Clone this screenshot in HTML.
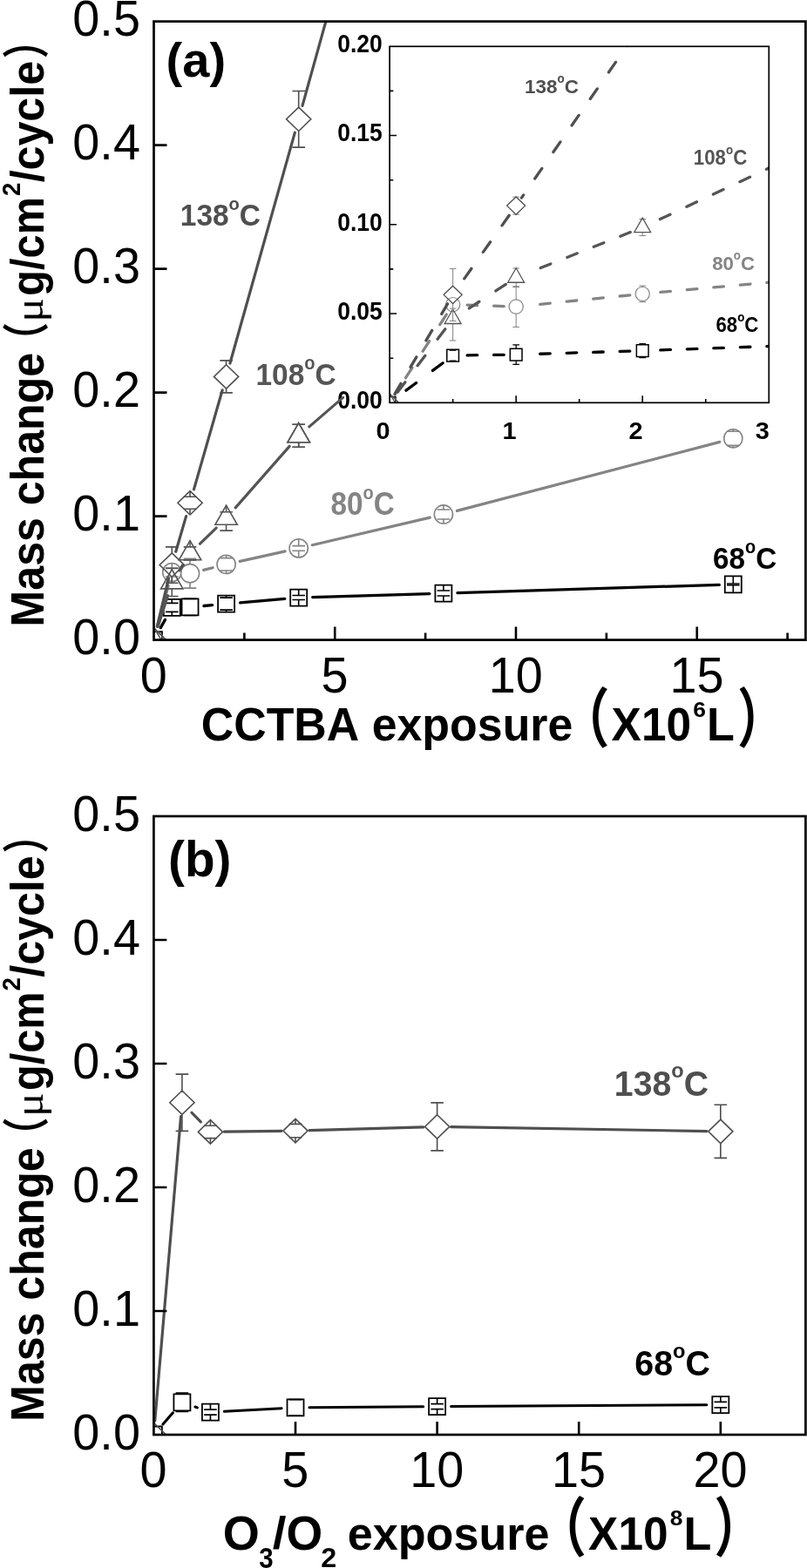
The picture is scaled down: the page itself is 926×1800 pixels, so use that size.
<!DOCTYPE html>
<html lang="en"><head><meta charset="utf-8"><title>Mass change vs exposure</title>
<style>html,body{margin:0;padding:0;background:#fff}svg{display:block}</style></head>
<body>
<svg width="926" height="1800" viewBox="0 0 926 1800">
<rect width="926" height="1800" fill="#fff"/>
<clipPath id="ca"><rect x="176.5" y="24.6" width="747.9" height="710"/></clipPath>
<g clip-path="url(#ca)">
<path d="M184.3 720.63L189.47 711.37M233.98 695.5L243.67 694.61M275.54 691.77L326.76 687.4M358.69 685.56L492.91 681.54M524.89 680.57L825.31 671.33" fill="none" stroke="#000000" stroke-width="3.3" stroke-linecap="round"/>
<path d="M189.97 692.4h14.6M197.28 692.4V687.9M189.97 702.4h14.6M197.28 702.4V706.9M210.75 687.37h14.6M218.05 687.37V687.47M210.75 706.57h14.6M218.05 706.57V706.47M252.3 686.14h14.6M259.6 686.14V683.64M252.3 700.14h14.6M259.6 700.14V702.64M335.4 683.54h14.6M342.7 683.54V676.54M335.4 688.54h14.6M342.7 688.54V695.54M501.6 678.07h14.6M508.9 678.07V671.57M501.6 684.07h14.6M508.9 684.07V690.57M834 669.94h14.6M841.3 669.94V661.34M834 671.74h14.6M841.3 671.74V680.34" fill="none" stroke="#000000" stroke-width="1.6"/>
<path d="M167 725.1h19v19h-19ZM187.78 687.9h19v19h-19ZM208.55 687.47h19v19h-19ZM250.1 683.64h19v19h-19ZM333.2 676.54h19v19h-19ZM499.4 671.57h19v19h-19ZM831.8 661.34h19v19h-19Z" fill="none" stroke="#000000" stroke-width="1.8"/>
<path d="M180.64 719.15L193.13 672.52M233.57 654.33L244.08 651.71M275.22 644.37L327.08 632.85M358.28 625.73L493.32 594.12M524.38 586.41L825.82 507.34" fill="none" stroke="#848484" stroke-width="3.2" stroke-linecap="round"/>
<path d="M189.97 652.07h14.6M197.28 652.07V646.47M189.97 662.07h14.6M197.28 662.07V667.67M210.75 641.3h14.6M218.05 641.3V647.6M210.75 675.1h14.6M218.05 675.1V668.8M252.3 640.64h14.6M259.6 640.64V637.24M252.3 655.04h14.6M259.6 655.04V658.44M335.4 626.58h14.6M342.7 626.58V618.78M335.4 632.18h14.6M342.7 632.18V639.98M501.6 584.97h14.6M508.9 584.97V579.87M501.6 595.97h14.6M508.9 595.97V601.07M834 495.28h14.6M841.3 495.28V492.68M834 511.28h14.6M841.3 511.28V513.88" fill="none" stroke="#848484" stroke-width="1.6"/>
<path d="M165.9 734.6a10.6 10.6 0 1 0 21.2 0a10.6 10.6 0 1 0 -21.2 0ZM186.68 657.07a10.6 10.6 0 1 0 21.2 0a10.6 10.6 0 1 0 -21.2 0ZM207.45 658.2a10.6 10.6 0 1 0 21.2 0a10.6 10.6 0 1 0 -21.2 0ZM249 647.84a10.6 10.6 0 1 0 21.2 0a10.6 10.6 0 1 0 -21.2 0ZM332.1 629.38a10.6 10.6 0 1 0 21.2 0a10.6 10.6 0 1 0 -21.2 0ZM498.3 590.47a10.6 10.6 0 1 0 21.2 0a10.6 10.6 0 1 0 -21.2 0ZM830.7 503.28a10.6 10.6 0 1 0 21.2 0a10.6 10.6 0 1 0 -21.2 0Z" fill="none" stroke="#848484" stroke-width="1.6"/>
<path d="M181.29 719.33L192.48 683.69M205.78 654.88L209.54 648.89M229.51 624.18L248.14 606.04M270.16 582.85L332.14 512.32" fill="none" stroke="#555555" stroke-width="3.2" stroke-linecap="round"/>
<path d="M189.97 652.43h14.6M197.28 652.43V653.73M189.97 684.43h14.6M197.28 684.43V675.83M210.75 627.84h14.6M218.05 627.84V620.64M210.75 642.84h14.6M218.05 642.84V642.74M252.3 587.77h14.6M259.6 587.77V580.17M252.3 609.17h14.6M259.6 609.17V602.27M335.4 487.3h14.6M342.7 487.3V485.6M335.4 513.3h14.6M342.7 513.3V507.7" fill="none" stroke="#555555" stroke-width="1.6"/>
<path d="M176.5 719.9L189.2 742L163.8 742ZM197.28 653.73L209.97 675.83L184.58 675.83ZM218.05 620.64L230.75 642.74L205.35 642.74ZM259.6 580.17L272.3 602.27L246.9 602.27ZM342.7 485.6L355.4 507.7L330 507.7Z" fill="none" stroke="#555555" stroke-width="1.6"/>
<path d="M180.25 719.05L193.52 664.1M201.75 633.19L213.57 592.62M222.46 561.88L255.19 447.8M263.93 417.02L338.37 152.18M346.99 121.36L508.9 -461.04" fill="none" stroke="#4f4f4f" stroke-width="3.2" stroke-linecap="round"/>
<path d="M189.97 627.85h14.6M197.28 627.85V634.85M189.97 669.25h14.6M197.28 669.25V662.25M210.75 570.26h14.6M218.05 570.26V563.56M210.75 584.26h14.6M218.05 584.26V590.96M252.3 413.92h14.6M259.6 413.92V418.72M252.3 450.92h14.6M259.6 450.92V446.12M335.4 104.48h14.6M342.7 104.48V123.08M335.4 169.08h14.6M342.7 169.08V150.48" fill="none" stroke="#4f4f4f" stroke-width="1.6"/>
<path d="M176.5 720.9L190.6 734.6L176.5 748.3L162.4 734.6ZM197.28 634.85L211.38 648.55L197.28 662.25L183.18 648.55ZM218.05 563.56L232.15 577.26L218.05 590.96L203.95 577.26ZM259.6 418.72L273.7 432.42L259.6 446.12L245.5 432.42ZM342.7 123.08L356.8 136.78L342.7 150.48L328.6 136.78Z" fill="none" stroke="#4f4f4f" stroke-width="1.6"/>
</g>
<path d="M176.5 592.6h15M176.5 450.6h15M176.5 308.6h15M176.5 166.6h15M384.25 734.6v-15M592 734.6v-15M799.75 734.6v-15M280.38 734.6v-8M488.12 734.6v-8M695.88 734.6v-8M903.62 734.6v-8" stroke="#000" stroke-width="2.6" fill="none"/>
<rect x="176.5" y="24.6" width="747.9" height="710" fill="none" stroke="#000" stroke-width="2.7"/>
<text transform="matrix(0.9973 0 0 1.0239 160.94 751.29)" font-family='"Liberation Sans", sans-serif' font-size="56" text-anchor="end">0.0</text>
<text transform="matrix(0.9973 0 0 1.0239 160.94 609.29)" font-family='"Liberation Sans", sans-serif' font-size="56" text-anchor="end">0.1</text>
<text transform="matrix(0.9973 0 0 1.0239 160.94 467.29)" font-family='"Liberation Sans", sans-serif' font-size="56" text-anchor="end">0.2</text>
<text transform="matrix(0.9973 0 0 1.0239 160.94 325.29)" font-family='"Liberation Sans", sans-serif' font-size="56" text-anchor="end">0.3</text>
<text transform="matrix(0.9973 0 0 1.0239 160.94 183.29)" font-family='"Liberation Sans", sans-serif' font-size="56" text-anchor="end">0.4</text>
<text transform="matrix(0.9973 0 0 1.0239 160.94 41.29)" font-family='"Liberation Sans", sans-serif' font-size="56" text-anchor="end">0.5</text>
<text transform="matrix(0.9963 0 0 1.0415 176.2 794.78)" font-family='"Liberation Sans", sans-serif' font-size="56" text-anchor="middle">0</text>
<text transform="matrix(0.9963 0 0 1.0415 383.95 794.78)" font-family='"Liberation Sans", sans-serif' font-size="56" text-anchor="middle">5</text>
<text transform="matrix(0.9963 0 0 1.0415 591.7 794.78)" font-family='"Liberation Sans", sans-serif' font-size="56" text-anchor="middle">10</text>
<text transform="matrix(0.9963 0 0 1.0415 799.45 794.78)" font-family='"Liberation Sans", sans-serif' font-size="56" text-anchor="middle">15</text>
<clipPath id="ci"><rect x="447.1" y="53.3" width="435.2" height="409"/></clipPath>
<g clip-path="url(#ci)">
<path d="M455.91 455.72L510.82 414.69" fill="none" stroke="#000000" stroke-width="3.3" stroke-linecap="round" stroke-dasharray="14.48 23.59" stroke-dashoffset="25.48"/>
<path d="M530.63 407.95L581.17 407.24" fill="none" stroke="#000000" stroke-width="3.3" stroke-linecap="round" stroke-dasharray="11.6 18.9" stroke-dashoffset="25"/>
<path d="M603.16 406.74L726.24 402.93" fill="none" stroke="#000000" stroke-width="3.3" stroke-linecap="round" stroke-dasharray="11.61 18.91" stroke-dashoffset="14"/>
<path d="M748.23 402.2L1027.37 392.36" fill="none" stroke="#000000" stroke-width="3.3" stroke-linecap="round" stroke-dasharray="11.61 18.91" stroke-dashoffset="20.91"/>
<path d="M515.83 402.11h7.6M519.63 402.11V401.27M515.83 414.11h7.6M519.63 414.11V414.95M588.37 395.89h7.6M592.17 395.89V400.25M588.37 418.29h7.6M592.17 418.29V413.93M733.43 394.59h7.6M737.23 394.59V395.75M733.43 410.59h7.6M737.23 410.59V409.43" fill="none" stroke="#000" stroke-width="1.3"/>
<path d="M440.26 455.46h13.68v13.68h-13.68ZM512.79 401.27h13.68v13.68h-13.68ZM585.33 400.25h13.68v13.68h-13.68ZM730.39 395.75h13.68v13.68h-13.68Z" fill="none" stroke="#000000" stroke-width="1.5"/>
<path d="M453.05 453.05L513.68 358.87" fill="none" stroke="#848484" stroke-width="3.3" stroke-linecap="round" stroke-dasharray="13.8 22.48" stroke-dashoffset="13.26"/>
<path d="M530.63 349.99L581.17 351.7" fill="none" stroke="#848484" stroke-width="3.3" stroke-linecap="round" stroke-dasharray="11.61 18.91" stroke-dashoffset="25.01"/>
<path d="M603.11 350.96L726.29 338.46" fill="none" stroke="#848484" stroke-width="3.3" stroke-linecap="round" stroke-dasharray="11.66 19" stroke-dashoffset="14.02"/>
<path d="M748.19 336.35L1027.37 310.77" fill="none" stroke="#848484" stroke-width="3.3" stroke-linecap="round" stroke-dasharray="11.65 18.98" stroke-dashoffset="20.94"/>
<path d="M515.83 354.12h7.6M519.63 354.12V357.73M588.37 328.77h7.6M592.17 328.77V343.97M588.37 375.37h7.6M592.17 375.37V360.18M733.43 328.05h7.6M737.23 328.05V329.24M733.43 346.65h7.6M737.23 346.65V345.46" fill="none" stroke="#808080" stroke-width="1"/>
<path d="M438.99 462.3a8.11 8.11 0 1 0 16.22 0a8.11 8.11 0 1 0 -16.22 0ZM511.52 349.62a8.11 8.11 0 1 0 16.22 0a8.11 8.11 0 1 0 -16.22 0ZM584.06 352.07a8.11 8.11 0 1 0 16.22 0a8.11 8.11 0 1 0 -16.22 0ZM729.12 337.35a8.11 8.11 0 1 0 16.22 0a8.11 8.11 0 1 0 -16.22 0Z" fill="none" stroke="#848484" stroke-width="1.2"/>
<path d="M453.72 453.51L513.02 374.77" fill="none" stroke="#555555" stroke-width="3.3" stroke-linecap="round" stroke-dasharray="14.52 23.66" stroke-dashoffset="34.16"/>
<path d="M528.85 359.98L582.95 324.74" fill="none" stroke="#555555" stroke-width="3.3" stroke-linecap="round" stroke-dasharray="13.84 22.55" stroke-dashoffset="25.08"/>
<path d="M602.39 314.68L727.01 265.14" fill="none" stroke="#555555" stroke-width="3.3" stroke-linecap="round" stroke-dasharray="12.48 20.34" stroke-dashoffset="13.58"/>
<path d="M747.19 256.4L1027.37 124.88" fill="none" stroke="#555555" stroke-width="3.3" stroke-linecap="round" stroke-dasharray="12.81 20.88" stroke-dashoffset="22.38"/>
<path d="M515.83 390.98h7.6M519.63 390.98V371.49M588.37 307.94h7.6M592.17 307.94V307.79M588.37 329.54h7.6M592.17 329.54V324.25M733.43 251.57h7.6M737.23 251.57V250.12M733.43 270.57h7.6M737.23 270.57V266.58" fill="none" stroke="#808080" stroke-width="1"/>
<path d="M447.1 451.35L456.56 467.81L437.64 467.81ZM519.63 355.03L529.09 371.49L510.17 371.49ZM592.17 307.79L601.63 324.25L582.71 324.25ZM737.23 250.12L746.69 266.58L727.77 266.58Z" fill="none" stroke="#555555" stroke-width="1.3"/>
<path d="M452.66 452.81L514.08 347.87" fill="none" stroke="#4f4f4f" stroke-width="3.3" stroke-linecap="round" stroke-dasharray="13.44 21.9" stroke-dashoffset="34.29"/>
<path d="M526 329.4L585.8 245.09" fill="none" stroke="#4f4f4f" stroke-width="3.3" stroke-linecap="round" stroke-dasharray="14.22 23.17" stroke-dashoffset="25.71"/>
<path d="M598.44 227.09L737.23 27.12" fill="none" stroke="#4f4f4f" stroke-width="3.3" stroke-linecap="round" stroke-dasharray="14.12 23.01" stroke-dashoffset="10.27"/>
<path d="M515.83 308.37h7.6M519.63 308.37V328.17M515.83 368.37h7.6M519.63 368.37V348.58M588.37 226.12h7.6M592.17 226.12V225.92M588.37 246.12h7.6M592.17 246.12V246.33" fill="none" stroke="#808080" stroke-width="1"/>
<path d="M447.1 452.09L457.6 462.3L447.1 472.51L436.6 462.3ZM519.63 328.17L530.14 338.37L519.63 348.58L509.13 338.37ZM592.17 225.92L602.67 236.12L592.17 246.33L581.66 236.12Z" fill="none" stroke="#4f4f4f" stroke-width="1.3"/>
</g>
<path d="M447.1 411.18h4.2M447.1 360.05h8M447.1 308.92h4.2M447.1 257.8h8M447.1 206.68h4.2M447.1 155.55h8M447.1 104.42h4.2M519.63 462.3v-4.2M592.17 462.3v-8M664.7 462.3v-4.2M737.23 462.3v-8M809.77 462.3v-4.2" stroke="#000" stroke-width="1.6" fill="none"/>
<rect x="447.1" y="53.3" width="435.2" height="409" fill="none" stroke="#000" stroke-width="1.7"/>
<text transform="matrix(0.9455 0 0 1.0278 438.78 469.14)" font-family='"Liberation Sans", sans-serif' font-size="28" font-weight="bold" text-anchor="end">0.00</text>
<text transform="matrix(0.9455 0 0 1.0278 438.78 366.89)" font-family='"Liberation Sans", sans-serif' font-size="28" font-weight="bold" text-anchor="end">0.05</text>
<text transform="matrix(0.9455 0 0 1.0278 438.78 264.64)" font-family='"Liberation Sans", sans-serif' font-size="28" font-weight="bold" text-anchor="end">0.10</text>
<text transform="matrix(0.9455 0 0 1.0278 438.78 162.39)" font-family='"Liberation Sans", sans-serif' font-size="28" font-weight="bold" text-anchor="end">0.15</text>
<text transform="matrix(0.9455 0 0 1.0278 438.78 60.14)" font-family='"Liberation Sans", sans-serif' font-size="28" font-weight="bold" text-anchor="end">0.20</text>
<text transform="matrix(1.034 0 0 1.0127 439.5 504.05)" font-family='"Liberation Sans", sans-serif' font-size="28" font-weight="bold" text-anchor="middle">0</text>
<text transform="matrix(1.034 0 0 1.0127 584.57 504.05)" font-family='"Liberation Sans", sans-serif' font-size="28" font-weight="bold" text-anchor="middle">1</text>
<text transform="matrix(1.034 0 0 1.0127 729.63 504.05)" font-family='"Liberation Sans", sans-serif' font-size="28" font-weight="bold" text-anchor="middle">2</text>
<text transform="matrix(1.034 0 0 1.0127 874.7 504.05)" font-family='"Liberation Sans", sans-serif' font-size="28" font-weight="bold" text-anchor="middle">3</text>
<g clip-path="url(#ca)">
<path d="M354.82 489.85L393.6 456.4" fill="none" stroke="#555555" stroke-width="3.2" stroke-linecap="round"/>
<path d="M335.4 487.3h14.6M342.7 487.3V485.6M335.4 513.3h14.6M342.7 513.3V507.7" fill="none" stroke="#555555" stroke-width="1.6"/>
<path d="M342.7 485.6L355.4 507.7L330 507.7Z" fill="none" stroke="#555555" stroke-width="1.6"/>
</g>
<text transform="matrix(1.0213 0 0 1.0432 601.92 106.54)" font-family='"Liberation Sans", sans-serif' font-size="22" font-weight="bold" fill="#4f4f4f">138<tspan font-size="13.2" dy="-11.11">o</tspan><tspan dy="11.11">C</tspan></text>
<text transform="matrix(1.0145 0 0 1.0649 795.73 188.83)" font-family='"Liberation Sans", sans-serif' font-size="22" font-weight="bold" fill="#555555">108<tspan font-size="13.2" dy="-11.11">o</tspan><tspan dy="11.11">C</tspan></text>
<text transform="matrix(1.0106 0 0 1.0378 817.14 309.74)" font-family='"Liberation Sans", sans-serif' font-size="22" font-weight="bold" fill="#848484">80<tspan font-size="13.2" dy="-11.11">o</tspan><tspan dy="11.11">C</tspan></text>
<text transform="matrix(1.0106 0 0 1.0595 821.44 380.94)" font-family='"Liberation Sans", sans-serif' font-size="22" font-weight="bold" fill="#000000">68<tspan font-size="13.2" dy="-11.11">o</tspan><tspan dy="11.11">C</tspan></text>
<text transform="matrix(0.9845 0 0 1.0261 206.78 258.69)" font-family='"Liberation Sans", sans-serif' font-size="34" font-weight="bold" fill="#4f4f4f">138<tspan font-size="20.4" dy="-17.17">o</tspan><tspan dy="17.17">C</tspan></text>
<text transform="matrix(0.9845 0 0 1.0386 293.48 441.94)" font-family='"Liberation Sans", sans-serif' font-size="34" font-weight="bold" fill="#555555">108<tspan font-size="20.4" dy="-17.17">o</tspan><tspan dy="17.17">C</tspan></text>
<text transform="matrix(0.9787 0 0 1.0702 379.42 590.93)" font-family='"Liberation Sans", sans-serif' font-size="34" font-weight="bold" fill="#848484">80<tspan font-size="20.4" dy="-17.17">o</tspan><tspan dy="17.17">C</tspan></text>
<text transform="matrix(0.9779 0 0 1.0491 817.98 652.94)" font-family='"Liberation Sans", sans-serif' font-size="34" font-weight="bold" fill="#000000">68<tspan font-size="20.4" dy="-17.17">o</tspan><tspan dy="17.17">C</tspan></text>
<text transform="matrix(1.0186 0 0 1.0194 190.6 88.08)" font-family='"Liberation Sans", sans-serif' font-size="55" font-weight="bold" fill="#000">(a)</text>
<text transform="matrix(0 -0.945 1.0164 0 50.3 719.41)" font-family='"Liberation Sans", sans-serif' font-size="53" font-weight="bold" fill="#000">Mass change</text>
<text transform="matrix(0 -0.7692 0.9637 0 50.4 413.06)" font-family='"Liberation Sans", "Noto Sans CJK SC", sans-serif' font-size="56" font-weight="700" fill="#000">（</text>
<text transform="matrix(0 -1.0313 0.9215 0 49.09 369.63)" font-family='"Liberation Serif", serif' font-size="50" fill="#000">μ</text>
<text transform="matrix(0 -0.9184 1.0164 0 50.3 339.67)" font-family='"Liberation Sans", sans-serif' font-size="53" font-weight="bold" fill="#000">g/cm</text>
<text transform="matrix(0 -0.9241 1.0048 0 22.7 225.12)" font-family='"Liberation Sans", sans-serif' font-size="30" font-weight="bold" fill="#000">2</text>
<text transform="matrix(0 -0.9462 1.0164 0 50.3 209.37)" font-family='"Liberation Sans", sans-serif' font-size="53" font-weight="bold" fill="#000">/cycle</text>
<text transform="matrix(0 -0.7576 0.9637 0 50.4 67.19)" font-family='"Liberation Sans", "Noto Sans CJK SC", sans-serif' font-size="56" font-weight="700" fill="#000">）</text>
<text transform="matrix(0.9794 0 0 1.0137 230.7 850.4)" font-family='"Liberation Sans", sans-serif' font-size="53" font-weight="bold" fill="#000">CCTBA</text>
<text transform="matrix(0.9795 0 0 1.0137 426.64 850.4)" font-family='"Liberation Sans", sans-serif' font-size="53" font-weight="bold" fill="#000">exposure</text>
<text transform="matrix(0.7632 0 0 0.9833 642.23 851.23)" font-family='"Liberation Sans", "Noto Sans CJK SC", sans-serif' font-size="75" font-weight="700" fill="#000">（</text>
<text transform="matrix(0.97 0 0 1.0137 701.61 850.4)" font-family='"Liberation Sans", sans-serif' font-size="53" font-weight="bold" fill="#000">X10</text>
<text transform="matrix(1.1064 0 0 1 795.17 822.95)" font-family='"Liberation Sans", sans-serif' font-size="24" font-weight="bold" fill="#000">6</text>
<text transform="matrix(0.9835 0 0 1.0137 810.96 850.4)" font-family='"Liberation Sans", sans-serif' font-size="53" font-weight="bold" fill="#000">L</text>
<text transform="matrix(0.7356 0 0 0.9833 846.03 851.23)" font-family='"Liberation Sans", "Noto Sans CJK SC", sans-serif' font-size="75" font-weight="700" fill="#000">）</text>
<clipPath id="cb"><rect x="176.4" y="937" width="748" height="710"/></clipPath>
<g clip-path="url(#cb)">
<path d="M186.93 1634.95L198.39 1621.84M224.03 1615.07L226.34 1615.88M257.42 1620.3L323.03 1616.76M355.01 1615.78L485.62 1614.75M517.62 1614.53L810.84 1612.73" fill="none" stroke="#000000" stroke-width="3.1" stroke-linecap="round"/>
<path d="M201.62 1599.2h14.6M208.92 1599.2V1600.3M201.62 1620.4h14.6M208.92 1620.4V1619.3M234.14 1618.16h14.6M241.44 1618.16V1611.66M234.14 1624.16h14.6M241.44 1624.16V1630.66M331.71 1606.6h14.6M339.01 1606.6V1606.4M331.71 1625.2h14.6M339.01 1625.2V1625.4M494.32 1611.62h14.6M501.62 1611.62V1605.12M494.32 1617.62h14.6M501.62 1617.62V1624.12M819.53 1609.34h14.6M826.83 1609.34V1603.14M819.53 1615.94h14.6M826.83 1615.94V1622.14" fill="none" stroke="#000000" stroke-width="1.7"/>
<path d="M166.9 1637.5h19v19h-19ZM199.42 1600.3h19v19h-19ZM231.94 1611.66h19v19h-19ZM329.51 1606.4h19v19h-19ZM492.12 1605.12h19v19h-19ZM817.33 1603.14h19v19h-19Z" fill="none" stroke="#000000" stroke-width="1.8"/>
<path d="M177.76 1631.06L207.56 1281.67M220.04 1277.24L230.32 1287.88M257.44 1299.17L323.01 1298.32M355 1297.65L485.62 1293.88M517.62 1293.69L810.84 1298.55" fill="none" stroke="#4f4f4f" stroke-width="3.2" stroke-linecap="round"/>
<path d="M201.62 1233.13h14.6M208.92 1233.13V1252.03M201.62 1298.33h14.6M208.92 1298.33V1279.43M234.14 1292.18h14.6M241.44 1292.18V1285.68M234.14 1306.58h14.6M241.44 1306.58V1313.08M331.71 1290.41h14.6M339.01 1290.41V1284.41M331.71 1305.81h14.6M339.01 1305.81V1311.81M494.32 1265.92h14.6M501.62 1265.92V1279.72M494.32 1320.92h14.6M501.62 1320.92V1307.12M819.53 1268.22h14.6M826.83 1268.22V1285.12M819.53 1329.42h14.6M826.83 1329.42V1312.52" fill="none" stroke="#4f4f4f" stroke-width="1.6"/>
<path d="M176.4 1633.3L190.5 1647L176.4 1660.7L162.3 1647ZM208.92 1252.03L223.02 1265.73L208.92 1279.43L194.82 1265.73ZM241.44 1285.68L255.54 1299.38L241.44 1313.08L227.34 1299.38ZM339.01 1284.41L353.11 1298.11L339.01 1311.81L324.91 1298.11ZM501.62 1279.72L515.72 1293.42L501.62 1307.12L487.52 1293.42ZM826.83 1285.12L840.93 1298.82L826.83 1312.52L812.73 1298.82Z" fill="none" stroke="#4f4f4f" stroke-width="1.6"/>
</g>
<path d="M176.4 1505h15M176.4 1363h15M176.4 1221h15M176.4 1079h15M339.01 1647v-15M501.62 1647v-15M664.23 1647v-15M826.83 1647v-15" stroke="#000" stroke-width="2.6" fill="none"/>
<rect x="176.4" y="937" width="748" height="710" fill="none" stroke="#000" stroke-width="2.7"/>
<text transform="matrix(0.9973 0 0 1.0239 160.94 1663.69)" font-family='"Liberation Sans", sans-serif' font-size="56" text-anchor="end">0.0</text>
<text transform="matrix(0.9973 0 0 1.0239 160.94 1521.69)" font-family='"Liberation Sans", sans-serif' font-size="56" text-anchor="end">0.1</text>
<text transform="matrix(0.9973 0 0 1.0239 160.94 1379.69)" font-family='"Liberation Sans", sans-serif' font-size="56" text-anchor="end">0.2</text>
<text transform="matrix(0.9973 0 0 1.0239 160.94 1237.69)" font-family='"Liberation Sans", sans-serif' font-size="56" text-anchor="end">0.3</text>
<text transform="matrix(0.9973 0 0 1.0239 160.94 1095.69)" font-family='"Liberation Sans", sans-serif' font-size="56" text-anchor="end">0.4</text>
<text transform="matrix(0.9973 0 0 1.0239 160.94 953.69)" font-family='"Liberation Sans", sans-serif' font-size="56" text-anchor="end">0.5</text>
<text transform="matrix(0.9963 0 0 1.0415 176.1 1707.18)" font-family='"Liberation Sans", sans-serif' font-size="56" text-anchor="middle">0</text>
<text transform="matrix(0.9963 0 0 1.0415 338.71 1707.18)" font-family='"Liberation Sans", sans-serif' font-size="56" text-anchor="middle">5</text>
<text transform="matrix(0.9963 0 0 1.0415 501.32 1707.18)" font-family='"Liberation Sans", sans-serif' font-size="56" text-anchor="middle">10</text>
<text transform="matrix(0.9963 0 0 1.0415 663.93 1707.18)" font-family='"Liberation Sans", sans-serif' font-size="56" text-anchor="middle">15</text>
<text transform="matrix(0.9963 0 0 1.0415 826.53 1707.18)" font-family='"Liberation Sans", sans-serif' font-size="56" text-anchor="middle">20</text>
<text transform="matrix(0.9808 0 0 1.0341 704.85 1257.68)" font-family='"Liberation Sans", sans-serif' font-size="40" font-weight="bold" fill="#4f4f4f">138<tspan font-size="24" dy="-20.2">o</tspan><tspan dy="20.2">C</tspan></text>
<text transform="matrix(0.986 0 0 1.0311 728.22 1579.38)" font-family='"Liberation Sans", sans-serif' font-size="40" font-weight="bold" fill="#000000">68<tspan font-size="24" dy="-20.2">o</tspan><tspan dy="20.2">C</tspan></text>
<text transform="matrix(1.0317 0 0 1.0272 193.06 1005.99)" font-family='"Liberation Sans", sans-serif' font-size="55" font-weight="bold" fill="#000">(b)</text>
<text transform="matrix(0 -0.945 1.0164 0 50.3 1631.81)" font-family='"Liberation Sans", sans-serif' font-size="53" font-weight="bold" fill="#000">Mass change</text>
<text transform="matrix(0 -0.7692 0.9637 0 50.4 1325.46)" font-family='"Liberation Sans", "Noto Sans CJK SC", sans-serif' font-size="56" font-weight="700" fill="#000">（</text>
<text transform="matrix(0 -1.0313 0.9215 0 49.09 1282.03)" font-family='"Liberation Serif", serif' font-size="50" fill="#000">μ</text>
<text transform="matrix(0 -0.9184 1.0164 0 50.3 1252.07)" font-family='"Liberation Sans", sans-serif' font-size="53" font-weight="bold" fill="#000">g/cm</text>
<text transform="matrix(0 -0.9241 1.0048 0 22.7 1137.52)" font-family='"Liberation Sans", sans-serif' font-size="30" font-weight="bold" fill="#000">2</text>
<text transform="matrix(0 -0.9462 1.0164 0 50.3 1121.77)" font-family='"Liberation Sans", sans-serif' font-size="53" font-weight="bold" fill="#000">/cycle</text>
<text transform="matrix(0 -0.7576 0.9637 0 50.4 979.59)" font-family='"Liberation Sans", "Noto Sans CJK SC", sans-serif' font-size="56" font-weight="700" fill="#000">）</text>
<text transform="matrix(1.0204 0 0 1.0373 255.8 1779.08)" font-family='"Liberation Sans", sans-serif' font-size="53" font-weight="bold" fill="#000">O</text>
<text transform="matrix(0.9831 0 0 1.0871 297.36 1799.53)" font-family='"Liberation Sans", sans-serif' font-size="30" font-weight="bold" fill="#000">3</text>
<text transform="matrix(1.0691 0 0 0.962 312.87 1777.94)" font-family='"Liberation Sans", sans-serif' font-size="53" font-weight="bold" fill="#000">/</text>
<text transform="matrix(1.0122 0 0 1.0373 328.42 1779.08)" font-family='"Liberation Sans", sans-serif' font-size="53" font-weight="bold" fill="#000">O</text>
<text transform="matrix(1.0759 0 0 1.0762 368.32 1799.2)" font-family='"Liberation Sans", sans-serif' font-size="30" font-weight="bold" fill="#000">2</text>
<text transform="matrix(0.9843 0 0 1.0137 398.73 1778.9)" font-family='"Liberation Sans", sans-serif' font-size="53" font-weight="bold" fill="#000">exposure</text>
<text transform="matrix(0.7632 0 0 0.9833 615.73 1779.72)" font-family='"Liberation Sans", "Noto Sans CJK SC", sans-serif' font-size="75" font-weight="700" fill="#000">（</text>
<text transform="matrix(0.97 0 0 1.0137 675.11 1778.9)" font-family='"Liberation Sans", sans-serif' font-size="53" font-weight="bold" fill="#000">X10</text>
<text transform="matrix(1.1064 0 0 1 768.67 1751.45)" font-family='"Liberation Sans", sans-serif' font-size="24" font-weight="bold" fill="#000">8</text>
<text transform="matrix(0.9835 0 0 1.0137 784.46 1778.9)" font-family='"Liberation Sans", sans-serif' font-size="53" font-weight="bold" fill="#000">L</text>
<text transform="matrix(0.7356 0 0 0.9833 819.53 1779.72)" font-family='"Liberation Sans", "Noto Sans CJK SC", sans-serif' font-size="75" font-weight="700" fill="#000">）</text>
</svg>
</body></html>
